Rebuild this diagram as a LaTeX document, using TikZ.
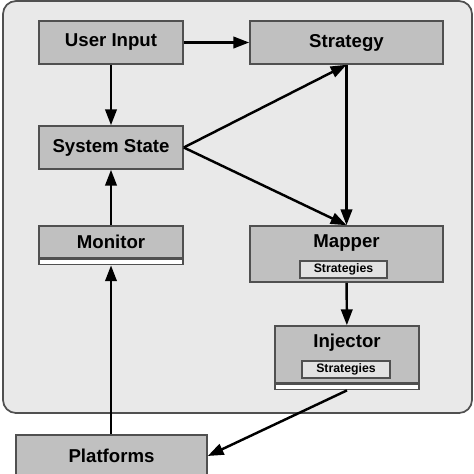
\documentclass[tikz,border=0pt]{standalone}
\usepackage{fontspec}
\setmainfont{Liberation Sans}
\usetikzlibrary{arrows.meta,positioning}

\definecolor{panelgray}{HTML}{E9E9E9}
\definecolor{boxgray}{HTML}{C0C0C0}
\definecolor{taggray}{HTML}{E2E2E2}
\definecolor{edgegray}{HTML}{505050}

\begin{document}
\begin{tikzpicture}[
    x=0.02cm, y=-0.02cm,
    >={Triangle[length=9pt,width=6.5pt]},
    panel/.style={draw=edgegray, line width=1pt, fill=panelgray, rounded corners=0.26cm},
    box/.style={draw=edgegray, line width=0.9pt, fill=boxgray, inner sep=0pt,
                font=\bfseries\fontsize{10.6}{12}\selectfont},
    strip/.style={draw=edgegray, line width=0.9pt, fill=white, inner sep=0pt, minimum height=0.1cm},
    title/.style={inner sep=0pt, font=\bfseries\fontsize{10.6}{12}\selectfont},
    tag/.style={draw=edgegray, line width=0.9pt, fill=taggray, inner sep=0pt,
                minimum height=0.34cm, font=\bfseries\fontsize{7}{8}\selectfont},
    flow/.style={->, line width=1.4pt, black}
]
\useasboundingbox (0,0) rectangle (474,474);

% Framework panel
\draw[panel] (3,1) rectangle (472,413);

% Upper boxes
\node[box, minimum width=2.88cm, minimum height=0.86cm] (user) at (111,42.5) {User Input};
\node[box, minimum width=3.86cm, minimum height=0.86cm] (strat) at (346.5,42.5) {Strategy};
\node[box, minimum width=2.88cm, minimum height=0.86cm] (sys) at (111,147.5) {System State};

% Monitor with strip
\node[box, minimum width=2.88cm, minimum height=0.64cm] (mon) at (111,242) {Monitor};
\node[strip, minimum width=2.88cm, below=0pt of mon] (monstrip) {};

% Mapper
\node[box, minimum width=3.86cm, minimum height=1.12cm] (map) at (346.5,254) {};
\node[title] (mapT) at (346.5,243) {Mapper};
\node[tag, minimum width=1.74cm] (mapS) at (343.5,269.5) {Strategies};

% Injector with strip
\node[box, minimum width=2.88cm, minimum height=1.14cm] (inj) at (347,354.5) {};
\node[strip, minimum width=2.88cm, below=0pt of inj] (injstrip) {};
\node[title] (injT) at (347,343) {Injector};
\node[tag, minimum width=1.76cm] (injS) at (346,369.5) {Strategies};

% Platforms (outside the panel)
\node[box, minimum width=3.82cm, minimum height=0.84cm] (plat) at (111.5,456) {Platforms};

% Connectors
\draw[flow] (user) -- (strat);
\draw[flow] (user) -- (sys);
\draw[flow] (sys.east) -- (strat.south);
\draw[flow] (sys.east) -- (map.north);
\draw[flow] (strat.south) -- (map.north);
\draw[flow] (mon) -- (sys);
\draw[flow] (plat.north -| monstrip.south) -- (monstrip.south);
\draw[flow] (map) -- (inj);
\draw[flow] (injstrip.south) -- (plat.east);

\end{tikzpicture}
\end{document}
